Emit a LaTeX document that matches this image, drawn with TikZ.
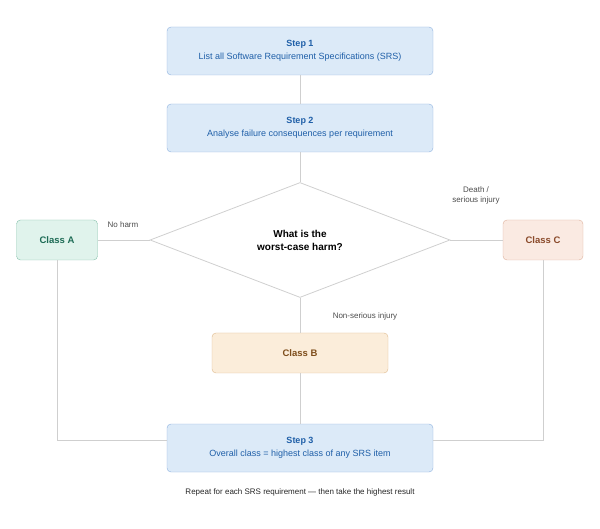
\documentclass[tikz,border=0pt]{standalone}
\usepackage{fontspec}
\setmainfont{Liberation Sans}
\usetikzlibrary{shapes.geometric}
\definecolor{stepfill}{HTML}{DCEAF8}
\definecolor{stepdraw}{HTML}{8DB1DE}
\definecolor{steptext}{HTML}{1F5FA8}
\definecolor{afill}{HTML}{E0F3EC}
\definecolor{adraw}{HTML}{86C2AC}
\definecolor{atext}{HTML}{1D6B55}
\definecolor{bfill}{HTML}{FBEDDA}
\definecolor{bdraw}{HTML}{DDB98C}
\definecolor{btext}{HTML}{7E4E1C}
\definecolor{cfill}{HTML}{FAEAE2}
\definecolor{cdraw}{HTML}{DDB19C}
\definecolor{ctext}{HTML}{8A4A2A}
\definecolor{linec}{HTML}{CFCFCF}
\tikzset{%
  link/.style = {draw=linec,line width=0.8pt},
  stepbox/.style = {rectangle,rounded corners=4pt,draw=stepdraw,fill=stepfill,
        minimum width=266pt,minimum height=48pt,align=center,
        text=steptext,font=\fontsize{9}{12}\selectfont},
  cls/.style = {rectangle,rounded corners=4pt,draw=#1draw,fill=#1fill,
        text=#1text,minimum height=40pt,font=\fontsize{9.5}{12}\selectfont\bfseries},
  lbl/.style = {text=black!70,align=center,font=\fontsize{8}{10}\selectfont}
}
\begin{document}
\begin{tikzpicture}[x=1pt,y=-1pt]
    \useasboundingbox (0,0) rectangle (600,529);
    \node[stepbox] (s1) at (300,51) {\textbf{Step 1}\\[1pt]List all Software Requirement Specifications (SRS)};
    \node[stepbox] (s2) at (300,128) {\textbf{Step 2}\\[1pt]Analyse failure consequences per requirement};
    \node[diamond,draw=linec,line width=0.8pt,aspect=2.6,minimum width=300pt,minimum height=115pt,
        inner sep=0pt,align=center,font=\fontsize{10}{13}\selectfont\bfseries] (q) at (300,240)
        {What is the\\worst-case harm?};
    \node[cls=a,minimum width=81pt] (ca) at (57,240) {Class A};
    \node[cls=c,minimum width=80pt] (cc) at (543,240) {Class C};
    \node[cls=b,minimum width=176pt] (cb) at (300,353) {Class B};
    \node[stepbox] (s3) at (300,448) {\textbf{Step 3}\\[1pt]Overall class = highest class of any SRS item};
    % connectors
    \coordinate (ja) at (57,440);
    \coordinate (jc) at (543,440);
    \draw[link] (s1) -- (s2);
    \draw[link] (s2) -- (q.north);
    \draw[link] (q.west) -- (ca);
    \draw[link] (q.east) -- (cc);
    \draw[link] (q.south) -- (cb);
    \draw[link] (cb) -- (s3);
    \draw[link] (ca) -- (ja) -- (s3.west |- ja);
    \draw[link] (cc) -- (jc) -- (s3.east |- jc);
    % labels
    \node[lbl] (la) at (123,225) {No harm};
    \node[lbl] (lc) at (476,195) {Death /\\serious injury};
    \node[lbl] (lb) at (365,316) {Non-serious injury};
    \node[lbl,text=black!85] (cap) at (300,492) {Repeat for each SRS requirement --- then take the highest result};
\end{tikzpicture}
\end{document}
